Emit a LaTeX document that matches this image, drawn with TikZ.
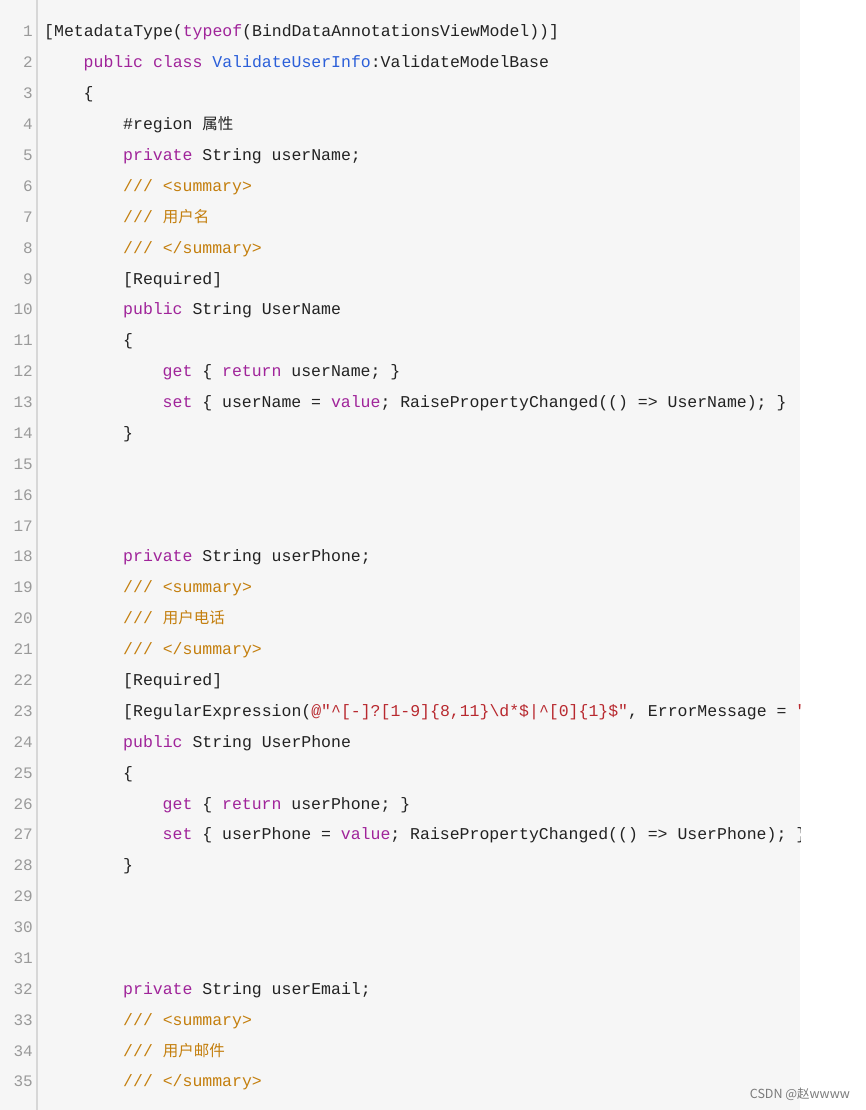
\documentclass[tikz,border=0pt]{standalone}
\usepackage{fontspec}
\newfontfamily\code{Liberation Mono}
\newfontfamily\cjk{Noto Sans CJK SC}
\definecolor{bgc}{HTML}{F6F6F6}
\definecolor{kw}{HTML}{A0249A}
\definecolor{cls}{HTML}{2B5FD9}
\definecolor{cm}{HTML}{C47F0E}
\definecolor{st}{HTML}{B8292F}
\definecolor{tx}{HTML}{222222}
\definecolor{ln}{HTML}{9A9A9A}
\newcommand\kw[1]{\textcolor{kw}{#1}}
\newcommand\cl[1]{\textcolor{cls}{#1}}
\newcommand\cm[1]{\textcolor{cm}{#1}}
\newcommand\st[1]{\textcolor{st}{#1}}
\newcommand\zh[1]{{\cjk\fontsize{15.5}{15}\selectfont #1}}
\begin{document}
\begin{tikzpicture}[x=1pt,y=-1pt,
  cd/.style={anchor=base west,inner sep=0,font=\code\fontsize{16.5}{16}\selectfont,text=tx},
  lnum/.style={anchor=base east,inner sep=0,font=\code\fontsize{16}{16}\selectfont,text=ln}]
\useasboundingbox (0,0) rectangle (865,1110);
\fill[bgc] (0,0) rectangle (800,1110);
\fill[white] (800,0) rectangle (865,1110);
\draw[ln!40,line width=1.5pt] (37,0) -- (37,1110);
\foreach \i in {1,...,35}{\node[lnum] (n\i) at (33,{37+(\i-1)*30.88}) {\i};}
\begin{scope}
\clip (38,0) rectangle (800,1110);
\def\L#1#2#3{\node[cd] (l#1) at ({44+#2*39.5},{37+(#1-1)*30.88}) {#3};}
\L{1}{0}{[MetadataType(\kw{typeof}(BindDataAnnotationsViewModel))]}
\L{2}{1}{\kw{public} \kw{class} \cl{ValidateUserInfo}:ValidateModelBase}
\L{3}{1}{\{}
\L{4}{2}{\#region \zh{属性}}
\L{5}{2}{\kw{private} String userName;}
\L{6}{2}{\cm{/// <summary>}}
\L{7}{2}{\cm{/// \zh{用户名}}}
\L{8}{2}{\cm{/// </summary>}}
\L{9}{2}{[Required]}
\L{10}{2}{\kw{public} String UserName}
\L{11}{2}{\{}
\L{12}{3}{\kw{get} \{ \kw{return} userName; \}}
\L{13}{3}{\kw{set} \{ userName = \kw{value}; RaisePropertyChanged(() => UserName); \}}
\L{14}{2}{\}}
\L{18}{2}{\kw{private} String userPhone;}
\L{19}{2}{\cm{/// <summary>}}
\L{20}{2}{\cm{/// \zh{用户电话}}}
\L{21}{2}{\cm{/// </summary>}}
\L{22}{2}{[Required]}
\L{23}{2}{[RegularExpression(\st{@"\textasciicircum[-]?[1-9]\{8,11\}\textbackslash d*\$|\textasciicircum[0]\{1\}\$"}, ErrorMessage = \st{"}}
\L{24}{2}{\kw{public} String UserPhone}
\L{25}{2}{\{}
\L{26}{3}{\kw{get} \{ \kw{return} userPhone; \}}
\L{27}{3}{\kw{set} \{ userPhone = \kw{value}; RaisePropertyChanged(() => UserPhone); \}}
\L{28}{2}{\}}
\L{32}{2}{\kw{private} String userEmail;}
\L{33}{2}{\cm{/// <summary>}}
\L{34}{2}{\cm{/// \zh{用户邮件}}}
\L{35}{2}{\cm{/// </summary>}}
\end{scope}
\node[anchor=base east,inner sep=0,text=ln!80!black,font=\cjk\fontsize{12.5}{12}\selectfont] (wm) at (850,1098) {CSDN @赵wwww};
\end{tikzpicture}
\end{document}
